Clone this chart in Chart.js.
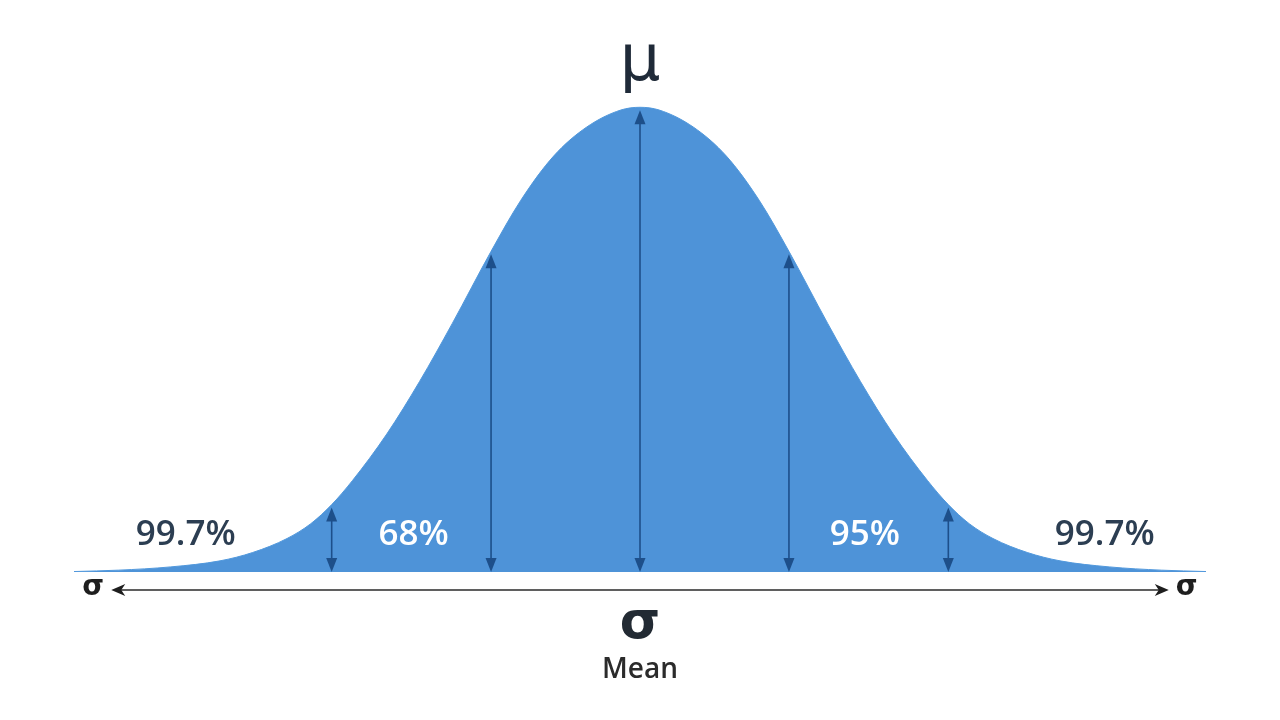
<!DOCTYPE html>
<html>
<head>
<meta charset="utf-8">
<script src="https://cdn.jsdelivr.net/npm/chart.js@4.4.1/dist/chart.umd.min.js"></script>
<style>
  html, body { margin: 0; padding: 0; background: #ffffff; }
  #wrap { width: 1280px; height: 720px; position: relative; }
</style>
</head>
<body>
<div id="wrap"><canvas id="bell"></canvas></div>
<script>
// curve, x in sigma units, height relative to the peak
var curveX = [-3.8, -3.5, -3.15, -2.82, -2.6, -2.37, -2.21, -2.07, -1.93, -1.7, -1.48, -1.26, -1.0, -0.8, -0.58, -0.36, -0.13, 0,
              0.13, 0.36, 0.58, 0.8, 1.0, 1.26, 1.48, 1.7, 1.93, 2.07, 2.21, 2.37, 2.6, 2.82, 3.15, 3.5, 3.8];
var curveY = [0.001, 0.004, 0.011, 0.024, 0.042, 0.072, 0.104, 0.145, 0.197, 0.297, 0.41, 0.535, 0.69, 0.80, 0.895, 0.957, 0.994, 1.0,
              0.994, 0.957, 0.895, 0.80, 0.69, 0.535, 0.41, 0.297, 0.197, 0.145, 0.104, 0.072, 0.042, 0.024, 0.011, 0.004, 0.001];

// vertical arrows
var arrowX = [-2.07, -1.0, 0, 1.0, 2.07];
var arrowTop = [0.145, 0.69, 1.0, 0.69, 0.145];

// percentage labels
var bandLabels = ['99.7%', '68%', '95%', '99.7%'];
var bandX = [-3.05, -1.52, 1.51, 3.12];
var bandY = [0.076, 0.076, 0.076, 0.076];
var bandColors = ['#2c3e52', '#ffffff', '#ffffff', '#2c3e52'];

var points = [];
for (var i = 0; i < curveX.length; i++) {
    points.push({ x: curveX[i], y: curveY[i] });
}

var arrowColor = '#1d4f8a';

function arrowHead(ctx, x, y, dir, w, h) {
    ctx.beginPath();
    ctx.moveTo(x, y);
    ctx.lineTo(x - w / 2, y + dir * h);
    ctx.lineTo(x + w / 2, y + dir * h);
    ctx.closePath();
    ctx.fill();
}

var decorations = {
    id: 'decorations',
    afterDatasetsDraw: function(chart) {
        var ctx = chart.ctx;
        var xs = chart.scales.x;
        var ys = chart.scales.y;
        var base = ys.getPixelForValue(0);
        ctx.save();

        // vertical double arrows
        ctx.strokeStyle = arrowColor;
        ctx.fillStyle = arrowColor;
        ctx.lineWidth = 1.6;
        for (var i = 0; i < arrowX.length; i++) {
            var px = xs.getPixelForValue(arrowX[i]);
            var top = ys.getPixelForValue(arrowTop[i]) + 3;
            ctx.beginPath();
            ctx.moveTo(px, top + 4);
            ctx.lineTo(px, base - 4);
            ctx.stroke();
            arrowHead(ctx, px, top, 1, 11, 14);
            arrowHead(ctx, px, base, -1, 11, 14);
        }

        // band percentages
        ctx.textAlign = 'center';
        ctx.textBaseline = 'middle';
        ctx.font = '600 35px "Open Sans", Lato, sans-serif';
        for (var j = 0; j < bandLabels.length; j++) {
            ctx.fillStyle = bandColors[j];
            ctx.fillText(bandLabels[j], xs.getPixelForValue(bandX[j]), ys.getPixelForValue(bandY[j]) - 2);
        }

        // horizontal axis arrow
        var axisY = base + 18;
        var left = xs.getPixelForValue(-3.55);
        var right = xs.getPixelForValue(3.55);
        ctx.strokeStyle = '#2a2a2a';
        ctx.fillStyle = '#1e1e1e';
        ctx.lineWidth = 1.5;
        ctx.beginPath();
        ctx.moveTo(left + 6, axisY);
        ctx.lineTo(right - 6, axisY);
        ctx.stroke();
        ctx.beginPath();
        ctx.moveTo(left, axisY);
        ctx.lineTo(left + 14, axisY - 6);
        ctx.lineTo(left + 10, axisY);
        ctx.lineTo(left + 14, axisY + 6);
        ctx.closePath();
        ctx.fill();
        ctx.beginPath();
        ctx.moveTo(right, axisY);
        ctx.lineTo(right - 14, axisY - 6);
        ctx.lineTo(right - 10, axisY);
        ctx.lineTo(right - 14, axisY + 6);
        ctx.closePath();
        ctx.fill();

        ctx.fillStyle = '#1e1e1e';
        ctx.font = '600 28px "DejaVu Sans", sans-serif';
        ctx.fillText('σ', left - 18, axisY - 2);
        ctx.fillText('σ', right + 18, axisY - 2);

        // mu, sigma, mean
        var cx = xs.getPixelForValue(0);
        ctx.fillStyle = '#1f2a38';
        ctx.font = '400 64px "DejaVu Sans", sans-serif';
        ctx.fillText('μ', cx, ys.getPixelForValue(1.0) - 44);
        ctx.fillStyle = '#222a33';
        ctx.font = 'bold 52px "DejaVu Sans", sans-serif';
        ctx.fillText('σ', cx, base + 52);
        ctx.fillStyle = '#2b2b2b';
        ctx.font = '600 28px "Open Sans", Lato, sans-serif';
        ctx.fillText('Mean', cx, base + 98);

        ctx.restore();
    }
};

new Chart(document.getElementById('bell'), {
    type: 'line',
    data: {
        datasets: [{
            data: points,
            borderColor: '#5198dc',
            backgroundColor: '#4e93d8',
            borderWidth: 1,
            fill: 'origin',
            pointRadius: 0,
            cubicInterpolationMode: 'monotone'
        }]
    },
    options: {
        responsive: true,
        maintainAspectRatio: false,
        animation: false,
        layout: { padding: { left: 74, right: 74, top: 98, bottom: 148 } },
        scales: {
            x: { type: 'linear', min: -3.8, max: 3.8, display: false },
            y: { min: 0, max: 1.02, display: false }
        },
        plugins: {
            legend: { display: false },
            tooltip: { enabled: false }
        }
    },
    plugins: [decorations]
});
</script>
</body>
</html>
